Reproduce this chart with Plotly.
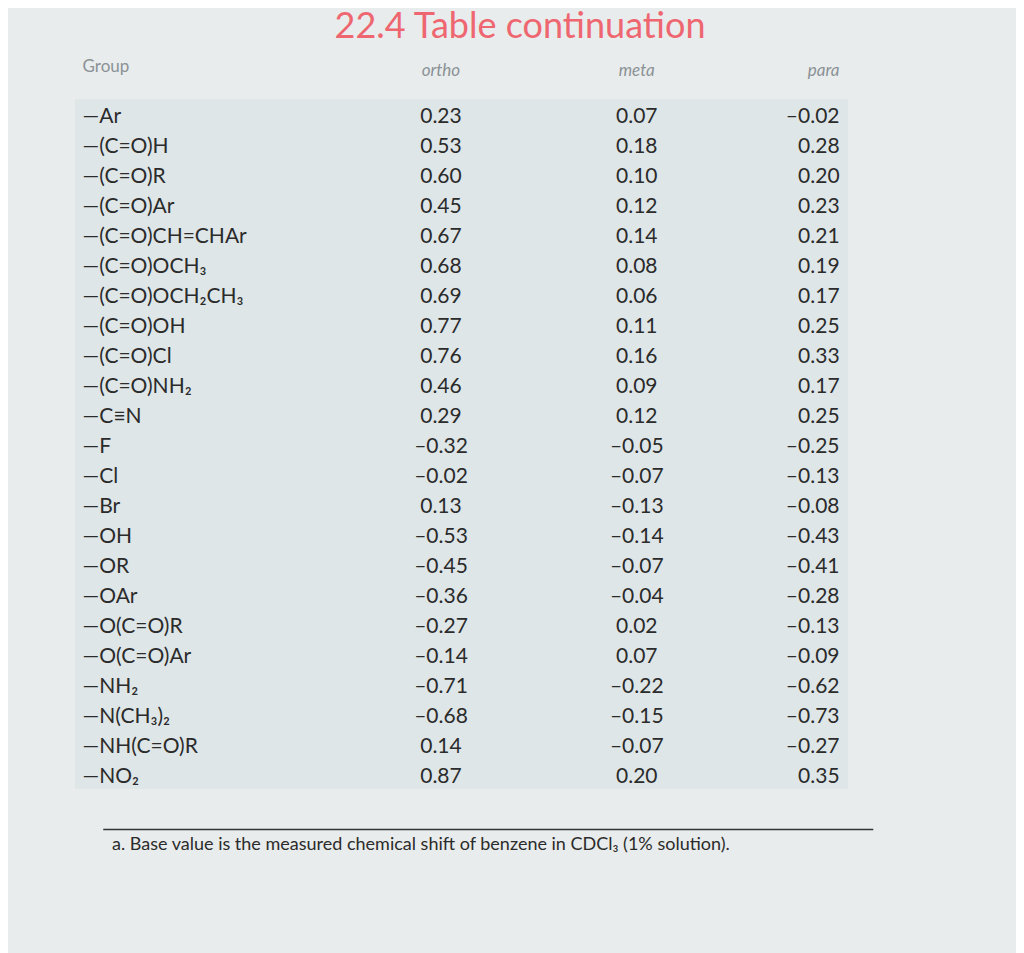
import plotly.graph_objects as go

groups = ["—Ar", "—(C=O)H", "—(C=O)R", "—(C=O)Ar", "—(C=O)CH=CHAr", "—(C=O)OCH₃",
          "—(C=O)OCH₂CH₃", "—(C=O)OH", "—(C=O)Cl", "—(C=O)NH₂", "—C≡N",
          "—F", "—Cl", "—Br", "—OH", "—OR", "—OAr", "—O(C=O)R", "—O(C=O)Ar", "—NH₂",
          "—N(CH₃)₂", "—NH(C=O)R", "—NO₂"]
ortho = [0.23, 0.53, 0.60, 0.45, 0.67, 0.68, 0.69, 0.77, 0.76, 0.46, 0.29, -0.32, -0.02, 0.13,
         -0.53, -0.45, -0.36, -0.27, -0.14, -0.71, -0.68, 0.14, 0.87]
meta = [0.07, 0.18, 0.10, 0.12, 0.14, 0.08, 0.06, 0.11, 0.16, 0.09, 0.12, -0.05, -0.07, -0.13,
        -0.14, -0.07, -0.04, 0.02, 0.07, -0.22, -0.15, -0.07, 0.20]
para = [-0.02, 0.28, 0.20, 0.23, 0.21, 0.19, 0.17, 0.25, 0.33, 0.17, 0.25, -0.25, -0.13, -0.08,
        -0.43, -0.41, -0.28, -0.13, -0.09, -0.62, -0.73, -0.27, 0.35]
headers = ["Group", "<i>ortho</i>", "<i>meta</i>", "<i>para</i>"]


def fmt(v):
    return f"{v:.2f}".replace("-", "–")


fig = go.Figure(go.Table(
    domain=dict(x=[0.065, 0.82], y=[0.14, 0.955]),
    columnwidth=[270, 190, 200, 110],
    header=dict(values=headers, align=["left", "center", "center", "right"],
                fill_color="#e9ecec", line_color="rgba(0,0,0,0)", height=48,
                font=dict(family="Lato", size=17, color="#8a9296")),
    cells=dict(values=[groups, [fmt(v) for v in ortho], [fmt(v) for v in meta], [fmt(v) for v in para]],
               align=["left", "center", "center", "right"],
               fill_color="#dfe6e8", line_color="rgba(0,0,0,0)", height=30,
               font=dict(family="Lato", size=21, color="#2b2b2b")),
))

fig.update_layout(
    width=1024, height=953, margin=dict(l=0, r=0, t=0, b=0),
    paper_bgcolor="#e9ecec",
    title=dict(text="22.4 Table continuation", x=0.5, y=0.995, yanchor="top", xanchor="center",
               font=dict(family="Lato", size=36, color="#ee6670")),
    shapes=[dict(type="line", xref="paper", yref="paper", x0=0.093, x1=0.845, y0=0.138, y1=0.138,
                 line=dict(color="#333", width=1.5))],
    annotations=[dict(text="a. Base value is the measured chemical shift of benzene in CDCl₃ (1% solution).",
                      xref="paper", yref="paper", x=0.1, y=0.11, xanchor="left", showarrow=False,
                      font=dict(family="Lato", size=18, color="#2b2b2b"))],
)

fig.write_html("out.html")
